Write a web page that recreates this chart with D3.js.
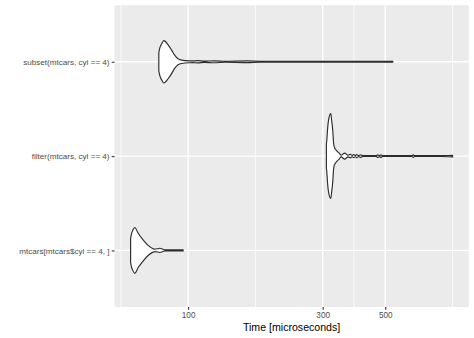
<!DOCTYPE html>
<html><head><meta charset="utf-8">
<script src="https://cdn.jsdelivr.net/npm/d3@7"></script>
<style>body{margin:0;background:#fff}svg{display:block}</style>
</head><body>
<svg id="c" width="474" height="338"></svg>
<script>
// ---- data ----
const categories = ["subset(mtcars, cyl == 4)", "filter(mtcars, cyl == 4)", "mtcars[mtcars$cyl == 4, ]"];
const xTicks = [100, 300, 500];
const xTitle = "Time [microseconds]";

// violin outlines: time (microseconds) and scaled density (1 = widest violin)
const subsetTime    = [78.7, 79.3, 80.6, 82.0, 84.9, 87.3, 89.7, 92.1, 94.8, 101.4, 104, 108, 114, 124, 135, 162, 180, 250, 375, 532];
const subsetDensity = [0.22, 0.32, 0.43, 0.50, 0.40, 0.28, 0.15, 0.07, 0.04, 0.022, 0.02, 0.026, 0.014, 0.022, 0.012, 0.02, 0.012, 0.011, 0.011, 0.011];

const filterTime    = [309.2, 310.2, 311.8, 314.3, 320.5, 323.1, 326.0, 327.5, 329.4, 336.7, 343.9, 348.7, 358.9, 369.3, 376.4, 381.6, 386.6, 392.0, 395.8, 402.4, 409.1, 415.7, 442.1, 464.4, 470.9, 477.1, 483.0, 489.0, 564.9, 621.9, 628.5, 635.1, 784, 866.9];
const filterDensity = [0.28, 0.36, 0.58, 0.82, 1.0, 0.82, 0.58, 0.35, 0.23, 0.125, 0.065, 0.02, 0.07, 0.02, 0.04, 0.015, 0.035, 0.015, 0.035, 0.012, 0.03, 0.01, 0.01, 0.01, 0.03, 0.012, 0.03, 0.01, 0.01, 0.01, 0.03, 0.01, 0.01, 0.02];

const mtcarsTime    = [62.5, 62.9, 63.6, 64.7, 66.4, 69.2, 72.1, 75.1, 76.1, 79.3, 82.6, 89.7, 96.0];
const mtcarsDensity = [0.28, 0.38, 0.47, 0.54, 0.41, 0.25, 0.12, 0.04, 0.028, 0.05, 0.014, 0.014, 0.014];

const violins = [
  {cat: categories[0], time: subsetTime, dens: subsetDensity},
  {cat: categories[1], time: filterTime, dens: filterDensity},
  {cat: categories[2], time: mtcarsTime, dens: mtcarsDensity}
];

// ---- layout ----
const panel = {left: 114.5, right: 468.7, top: 5.2, bottom: 307};
const svg = d3.select("#c");
const FONT = "'Liberation Sans', Arial, Helvetica, sans-serif";

// x: log scale, domain = data range expanded 5% in log space (ggplot default)
const allT = violins.flatMap(v => v.time);
const lmin = Math.log10(d3.min(allT)), lmax = Math.log10(d3.max(allT));
const ext = (lmax - lmin) * 0.05;
const x = d3.scaleLog().domain([10 ** (lmin - ext), 10 ** (lmax + ext)]).range([panel.left, panel.right]);

const y = d3.scalePoint().domain(categories).range([panel.top, panel.bottom]).padding(0.6);
const wScale = d3.scaleLinear().domain([0, 1]).range([0, 0.45 * y.step()]);

// panel background
svg.append("rect").attr("x", panel.left).attr("y", panel.top)
  .attr("width", panel.right - panel.left).attr("height", panel.bottom - panel.top)
  .attr("fill", "#EBEBEB");

// minor breaks (ggplot regular_minor_breaks in log space)
const lb = xTicks.map(Math.log10);
const bd = lb[1] - lb[0];
const [d0, d1] = x.domain().map(Math.log10);
const eb = lb.slice();
if (d0 < eb[0]) eb.unshift(eb[0] - bd);
if (d1 > eb[eb.length - 1]) eb.push(eb[eb.length - 1] + bd);
const minor = [];
for (let i = 0; i < eb.length - 1; i++) minor.push((eb[i] + eb[i + 1]) / 2);
const minorVals = minor.map(v => 10 ** v).filter(v => v > x.domain()[0] && v < x.domain()[1]);

svg.append("g").selectAll("line").data(minorVals).join("line")
  .attr("x1", d => x(d)).attr("x2", d => x(d))
  .attr("y1", panel.top).attr("y2", panel.bottom)
  .attr("stroke", "#fff").attr("stroke-width", 0.7);

svg.append("g").selectAll("line").data(xTicks).join("line")
  .attr("x1", d => x(d)).attr("x2", d => x(d))
  .attr("y1", panel.top).attr("y2", panel.bottom)
  .attr("stroke", "#fff").attr("stroke-width", 1.4);

svg.append("g").selectAll("line").data(categories).join("line")
  .attr("x1", panel.left).attr("x2", panel.right)
  .attr("y1", d => y(d)).attr("y2", d => y(d))
  .attr("stroke", "#fff").attr("stroke-width", 1.4);

// violins
const gV = svg.append("g");
violins.forEach(v => {
  const cy = y(v.cat);
  const pts = v.time.map((t, i) => [t, v.dens[i]]);
  const area = d3.area()
    .x(d => x(d[0]))
    .y0(d => cy - wScale(d[1]))
    .y1(d => cy + wScale(d[1]))
    .curve(d3.curveMonotoneX);
  gV.append("path").attr("d", area(pts))
    .attr("fill", "#fff").attr("stroke", "#2b2b2b")
    .attr("stroke-width", 1.15).attr("stroke-linejoin", "round");
});

// axes
const xAxis = d3.axisBottom(x).tickValues(xTicks).tickFormat(d3.format("d")).tickSize(2.75).tickPadding(2.5);
const gx = svg.append("g").attr("transform", `translate(0,${panel.bottom})`).call(xAxis);
gx.select(".domain").remove();
gx.selectAll(".tick line").attr("stroke", "#333333").attr("stroke-width", 1.1);
gx.selectAll(".tick text").attr("fill", "#4D4D4D").attr("font-family", FONT).attr("font-size", 8.2);

const yAxis = d3.axisLeft(y).tickSize(2.75).tickPadding(2.2);
const gy = svg.append("g").attr("transform", `translate(${panel.left},0)`).call(yAxis);
gy.select(".domain").remove();
gy.selectAll(".tick line").attr("stroke", "#333333").attr("stroke-width", 1.1);
gy.selectAll(".tick text").attr("fill", "#4D4D4D").attr("font-family", FONT).attr("font-size", 8.1);

svg.append("text").attr("x", (panel.left + panel.right) / 2).attr("y", 330.5)
  .attr("text-anchor", "middle").attr("font-family", FONT).attr("font-size", 10.6)
  .attr("fill", "#000").text(xTitle);
</script>
</body></html>
